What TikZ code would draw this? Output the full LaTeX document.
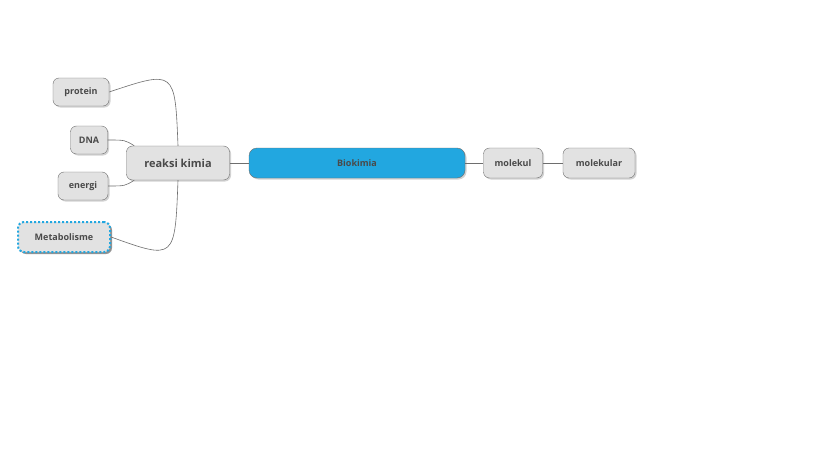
\documentclass[tikz,border=0pt]{standalone}
\usepackage{fontspec}
\setmainfont{Open Sans}
\usetikzlibrary{shadows}
\definecolor{txt}{HTML}{4A4A4A}
\definecolor{fillg}{HTML}{E2E2E2}
\definecolor{edge}{HTML}{6E6E6E}
\definecolor{blu}{HTML}{22A7E0}
\tikzset{
 topic/.style={draw=edge, fill=fillg, rounded corners=6pt, text=txt, font=\bfseries\fontsize{9}{10}\selectfont, inner sep=0pt, minimum height=28pt, drop shadow={shadow xshift=1.5pt,shadow yshift=-1.5pt,opacity=.35}},
 conn/.style={draw=edge, line width=0.6pt}
}
\begin{document}
\begin{tikzpicture}[x=1pt,y=-1pt]
\useasboundingbox (0,0) rectangle (819,460);
\fill[white] (0,0) rectangle (819,460);
\node[topic, minimum width=56pt] (protein) at (81,92) {protein};
\node[topic, minimum width=37pt] (dna) at (89,140) {DNA};
\node[topic, minimum width=50pt] (energi) at (83,186) {energi};
\node[topic, minimum width=92pt, minimum height=30pt, draw=blu, dotted, line width=2pt, drop shadow={shadow xshift=2pt,shadow yshift=-2pt,opacity=.8}] (meta) at (64,237) {Metabolisme};
\node[topic, minimum width=103pt, minimum height=34pt, font=\fontsize{11}{12}\selectfont\bfseries] (rk) at (178,163) {reaksi kimia};
\node[topic, minimum width=216pt, minimum height=30pt, fill=blu, rounded corners=8pt] (bio) at (357,163) {Biokimia};
\node[topic, minimum width=59pt, minimum height=30pt] (mol) at (513,163) {molekul};
\node[topic, minimum width=72pt, minimum height=30pt] (molr) at (599,163) {molekular};
\draw[conn] (protein.east) .. controls (175,70) .. (rk.north);
\draw[conn] (meta.east) .. controls (175,260) .. (rk.south);
\draw[conn] (dna.east) .. controls (125,140) .. ([xshift=8pt]rk.north west);
\draw[conn] (energi.east) .. controls (125,186) .. ([xshift=8pt]rk.south west);
\draw[conn] (rk.east) -- (bio.west);
\draw[conn] (bio.east) -- (mol.west);
\draw[conn] (mol.east) -- (molr.west);
\end{tikzpicture}
\end{document}
